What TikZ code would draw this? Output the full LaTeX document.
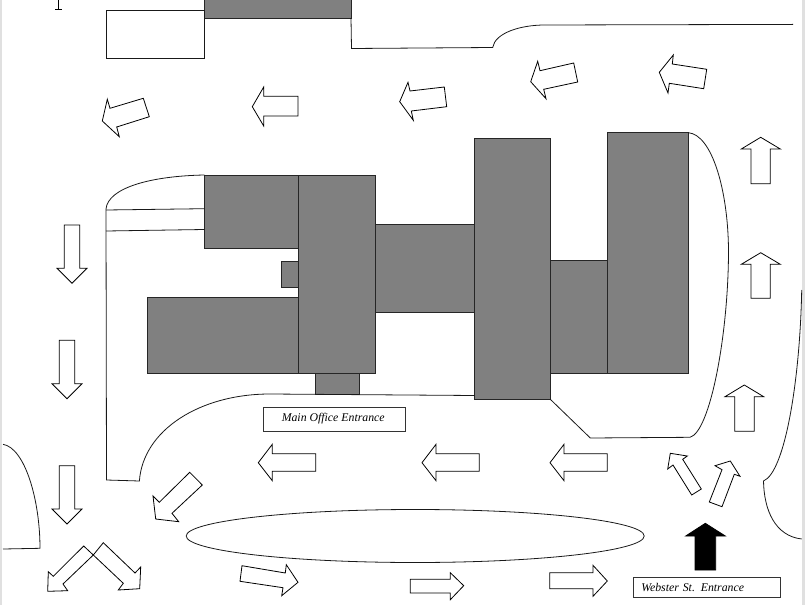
\documentclass[tikz,border=0pt]{standalone}
\usepackage{fontspec}
\setmainfont{Liberation Serif}
\tikzset{
  building/.style={draw=black!85,fill=black!50,line width=0.8bp,line join=miter},
  road/.style={draw=black!90,line width=0.8bp},
  flowarrow/.style={draw=black,fill=white,line width=0.8bp,line join=miter},
  solidarrow/.style={draw=black,fill=black,line width=0.8bp},
  labelbox/.style={draw=black!80,fill=white,line width=0.9bp,font=\itshape\fontsize{11.8bp}{13bp}\selectfont,inner sep=0pt,anchor=north west},
  edgestrip/.style={fill=black!12,draw=none}
}
\begin{document}
\begin{tikzpicture}[x=1bp,y=-1bp]
\useasboundingbox (0,0) rectangle (805,614);
% page edge strips
\path[edgestrip] (0,0) rectangle (2,605);
\path[edgestrip] (802,0) rectangle (805,605);
% text cursor
\draw[black,line width=0.8bp] (58.5,0) -- (58.5,9) (55,9.3) -- (62,9.3);
% buildings
\path[building] (204.5,-2) rectangle (351,18);
\path[building] (204.5,175) rectangle (298,248);
\path[building] (281,261) rectangle (298,287);
\path[building] (147.5,297) rectangle (298,373.5);
\path[building] (315.5,373.5) rectangle (359.5,394);
\path[building] (298,175) rectangle (375,373.5);
\path[building] (375,224.5) rectangle (474.5,312.5);
\path[building] (474.5,138.5) rectangle (550,399);
\path[building] (550,260.5) rectangle (607.5,373.5);
\path[building] (607.5,132.5) rectangle (688.5,373.5);
% white annex
\path[road,fill=white] (106,10.5) rectangle (204.5,58);
% roads
\draw[road] (351,18) -- (351.5,48.5) -- (492.7,47.5) .. controls (495,33) and (520,25) .. (545,25) -- (793,24.4);
\draw[road] (204.5,175) .. controls (150,176) and (108,188) .. (106,209) -- (106.5,480) -- (139.4,481)
  .. controls (143,430) and (200,394) .. (270,394) -- (474.5,395.5);
\draw[road] (106,210) -- (204.5,208.7);
\draw[road] (106,231) -- (204.5,229.5);
\draw[road] (550,399) -- (590.3,438) -- (690,437.3) .. controls (710,432) and (728.5,335) .. (728.5,250)
  .. controls (728,190) and (712,135) .. (688.5,132.7);
\draw[road] (801.7,290) .. controls (800,380) and (785,472) .. (763.5,481) .. controls (764,510) and (775,536) .. (801.7,539);
\draw[road] (3,444.3) .. controls (25,448) and (40,500) .. (40,548.3) -- (3,549);
% central island
\draw[road] (415.2,536) ellipse [x radius=229,y radius=26.5];
% arrows, top row
\path[flowarrow] (107.3,99.3) -- (110,108.3) -- (143.3,98.3) -- (149.3,116.7) -- (116.7,127) -- (119.3,136.7) -- (102.3,121) -- cycle;
\path[flowarrow] (263.7,87) -- (263.7,96.3) -- (298,96.3) -- (298,116) -- (263.7,116) -- (263.7,126) -- (252.3,106.7) -- cycle;
\path[flowarrow] (399.7,101.7) -- (408,82.3) -- (410,91) -- (444.3,87) -- (446.7,106.7) -- (411.3,111) -- (413.3,120.3) -- cycle;
\path[flowarrow] (530.7,81.7) -- (537.7,61.3) -- (540,70.7) -- (573.7,63) -- (577.7,82) -- (543.7,89.3) -- (546,98.7) -- cycle;
\path[flowarrow] (659.3,72.3) -- (673.3,55) -- (672.3,64) -- (706.7,69.3) -- (703.7,88.7) -- (669.3,83.3) -- (668,93) -- cycle;
% arrows, right side
\path[flowarrow] (760.7,137.3) -- (780.3,149) -- (770.3,149) -- (770.3,183.7) -- (751,183.7) -- (751,149) -- (741.3,149) -- cycle;
\path[flowarrow] (760.7,252.7) -- (780.3,264.3) -- (770.3,264.3) -- (770.3,298.3) -- (751,298.3) -- (751,264.3) -- (741.3,264.3) -- cycle;
\path[flowarrow] (744.3,385) -- (763.7,396.7) -- (754.3,396.7) -- (754.3,431.3) -- (734.7,431.3) -- (734.7,396.7) -- (725,396.7) -- cycle;
% arrows, left side
\path[flowarrow] (64.3,225) -- (79.7,225) -- (79.7,268.3) -- (87,268.3) -- (72,283.3) -- (57,268.3) -- (64.3,268.3) -- cycle;
\path[flowarrow] (59.3,340.3) -- (74.7,340.3) -- (74.7,383.7) -- (82,383.7) -- (67,398.7) -- (52,383.7) -- (59.3,383.7) -- cycle;
\path[flowarrow] (59.3,465.7) -- (74.7,465.7) -- (74.7,509) -- (82,509) -- (67,524) -- (52,509) -- (59.3,509) -- cycle;
% arrows, lower row
\path[flowarrow] (258.3,462.7) -- (272.3,444.3) -- (272.3,453.7) -- (315.7,453.7) -- (315.7,471.3) -- (272.3,471.3) -- (272.3,480.7) -- cycle;
\path[flowarrow] (422,462.7) -- (436,444.3) -- (436,453.7) -- (479.3,453.7) -- (479.3,471.3) -- (436,471.3) -- (436,480.7) -- cycle;
\path[flowarrow] (550,462.7) -- (564,444.3) -- (564,453.7) -- (607.3,453.7) -- (607.3,471.3) -- (564,471.3) -- (564,480.7) -- cycle;
\path[flowarrow] (189.7,472.3) -- (202.3,485) -- (172,513.3) -- (178.7,521.7) -- (155.7,519) -- (153,496) -- (159.3,502.3) -- cycle;
% crossing pair, bottom left
\draw[flowarrow,fill=none] (93.3,555) -- (83.7,546) -- (53.3,576.3) -- (48.3,571.7) -- (47.7,591.3) -- (67.7,590.7) -- (63,584) -- (93.3,555)
  -- (103.3,542.7) -- (135,573) -- (140.7,567) -- (139.7,588.7) -- (118.3,590) -- (123.3,583.3) -- cycle;
% arrows, bottom row
\path[flowarrow] (242,565.7) -- (285.3,573) -- (286.3,564.7) -- (298,582.3) -- (281.7,595.7) -- (283,587.7) -- (240,581.3) -- cycle;
\path[flowarrow] (410.3,579.3) -- (450.3,579.3) -- (450.3,572.7) -- (463.7,585.7) -- (450.3,599.7) -- (450.3,593) -- (410.3,593) -- cycle;
\path[flowarrow] (549.7,572.7) -- (593,572.7) -- (593,565.3) -- (607.3,581) -- (593,596.3) -- (593,588.7) -- (549.7,588.7) -- cycle;
% entrance arrows
\path[flowarrow] (670.3,453.3) -- (687.3,456) -- (682.7,459.3) -- (701.3,489) -- (691.7,495) -- (673,465) -- (667.7,469) -- cycle;
\path[flowarrow] (730.3,461) -- (740,476.3) -- (734.3,474.3) -- (722,506.7) -- (709.3,502) -- (722,469.7) -- (715,465.7) -- cycle;
\path[solidarrow] (705.3,523.3) -- (725.3,536) -- (715.7,536) -- (715.7,570) -- (695,570) -- (695,536) -- (685.7,536) -- cycle;
% labels
\node[labelbox,minimum width=141.5bp,minimum height=24.3bp,align=center] (mainoffice) at (263,407) {\raisebox{4.5bp}{Main Office Entrance}\hspace*{2bp}};
\node[labelbox,minimum width=146.7bp,minimum height=20bp,text width=131bp,inner xsep=7.3bp,align=left] (webster) at (633,577) {\raisebox{0.8bp}{Webster St. Entrance}};
\end{tikzpicture}
\end{document}
